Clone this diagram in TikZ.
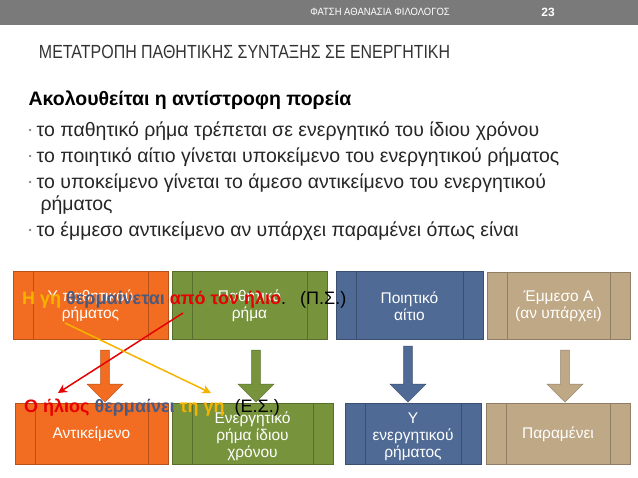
\documentclass[tikz,border=0pt]{standalone}
\usepackage{fontspec}
\setmainfont{Liberation Sans}
\usetikzlibrary{shapes.arrows,arrows.meta}
\definecolor{cor}{HTML}{F26D21}\definecolor{cgr}{HTML}{77933C}
\definecolor{cbl}{HTML}{4F6A94}\definecolor{ctn}{HTML}{BFA886}
\definecolor{tblue}{HTML}{4A5A80}\definecolor{tyel}{HTML}{F5B300}\definecolor{tred}{HTML}{E60000}
\tikzset{
 boxx/.style={draw=#1!75!black,fill=#1,line width=1pt},
 btxt/.style={text=white,align=center,font=\fontsize{15.5}{17}\selectfont},
 barrow/.style={single arrow,draw=#1!75!black,fill=#1,shape border rotate=270,minimum width=36pt,single arrow head extend=7pt,single arrow tip angle=90,minimum height=52pt,inner sep=2pt},
 bul/.style={anchor=west,font=\fontsize{19.5}{22}\selectfont,text=black!85},
}
\newcommand{\bulx}{{\color{black!45}\fontsize{9}{9}\selectfont\raisebox{3pt}{\textbullet}}\hspace{5pt}}
\newcommand{\mybox}[6]{% name color x1 y1 x2 y2
 \draw[boxx=#2] (#3,#4) rectangle (#5,#6);
 \draw[#2!75!black,line width=0.8pt] (#3+20,#4) -- (#3+20,#6) (#5-20,#4) -- (#5-20,#6);
 \coordinate (#1) at ({(#3+#5)/2},{(#4+#6)/2});}
\begin{document}
\begin{tikzpicture}[x=1pt,y=-1pt]
\useasboundingbox (0,0) rectangle (638,478);
\fill[black!52] (0,0) rectangle (638,25);
\node[text=white,font=\fontsize{10.5}{12}\selectfont,xscale=0.9] (hd) at (380,12) {ΦΑΤΣΗ ΑΘΑΝΑΣΙΑ ΦΙΛΟΛΟΓΟΣ};
\node[text=white,font=\bfseries\fontsize{12}{13}\selectfont] (pg) at (548,12) {23};
\node[anchor=west,text=black!80,font=\fontsize{19}{21}\selectfont,xscale=0.84] (title) at (36,52) {ΜΕΤΑΤΡΟΠΗ ΠΑΘΗΤΙΚΗΣ ΣΥΝΤΑΞΗΣ ΣΕ ΕΝΕΡΓΗΤΙΚΗ};
\node[anchor=west,font=\bfseries\fontsize{19.5}{21}\selectfont] (h) at (25,100) {Ακολουθείται η αντίστροφη πορεία};
\node[bul] (b1) at (25,131) {\bulx το παθητικό ρήμα τρέπεται σε ενεργητικό του ίδιου χρόνου};
\node[bul] (b2) at (25,157) {\bulx το ποιητικό αίτιο γίνεται υποκείμενο του ενεργητικού ρήματος};
\node[bul] (b3) at (25,183) {\bulx το υποκείμενο γίνεται το άμεσο αντικείμενο του ενεργητικού};
\node[bul] (b3b) at (37,205) {ρήματος};
\node[bul] (b4) at (25,231) {\bulx το έμμεσο αντικείμενο αν υπάρχει παραμένει όπως είναι};
% boxes
\mybox{t1}{cor}{13}{272}{168}{340}
\mybox{t2}{cgr}{172}{272}{327}{340}
\mybox{t3}{cbl}{336}{272}{483}{340}
\mybox{t4}{ctn}{487}{273}{630}{340}
\mybox{u1}{cor}{15}{404}{168}{465}
\mybox{u2}{cgr}{172}{404}{333}{465}
\mybox{u3}{cbl}{345}{404}{481}{465}
\mybox{u4}{ctn}{486}{404}{630}{465}
\node[btxt] at (t1) {Υ παθητικού\\ρήματος};
\node[btxt] at (t2) {Παθητικό\\ρήμα};
\node[btxt] at (t3) {Ποιητικό\\αίτιο};
\node[btxt] at (t4) {Έμμεσο Α\\(αν υπάρχει)};
\node[btxt] at (u1) {Αντικείμενο};
\node[btxt,yshift=-2pt] at (u2) {Ενεργητικό\\ρήμα ίδιου\\χρόνου};
\node[btxt,yshift=-2pt] at (u3) {Υ\\ενεργητικού\\ρήματος};
\node[btxt] at (u4) {Παραμένει};
% block arrows
\node[barrow=cor] (a1) at (105,374) {};
\node[barrow=cgr] (a2) at (256,374) {};
\node[barrow=cbl,minimum height=56pt] (a3) at (408,372) {};
\node[barrow=ctn] (a4) at (565,374) {};
% overlay sentences
\node[anchor=west,font=\bfseries\fontsize{18}{20}\selectfont,inner sep=0] (s1) at (22,300)
 {\color{tyel}Η γη \color{tblue}θερμαίνεται \color{tred}από τον ήλιο\color{black}\mdseries.\hspace{14pt}(Π.Σ.)};
\node[anchor=west,font=\bfseries\fontsize{18}{20}\selectfont,inner sep=0] (s2) at (24,408)
 {\color{tred}Ο ήλιος \color{tblue}θερμαίνει \color{tyel}τη γη\hspace{10pt}\color{black}\mdseries(Ε.Σ.)};
\coordinate (r1) at (183,313); \coordinate (r2) at (58,393);
\coordinate (y1) at (65,323); \coordinate (y2) at (211,393);
\draw[tred,line width=1.5pt,-{Stealth[length=9pt,width=9pt]}] (r1) -- (r2);
\draw[tyel,line width=1.5pt,-{Stealth[length=9pt,width=9pt]}] (y1) -- (y2);
\end{tikzpicture}
\end{document}
